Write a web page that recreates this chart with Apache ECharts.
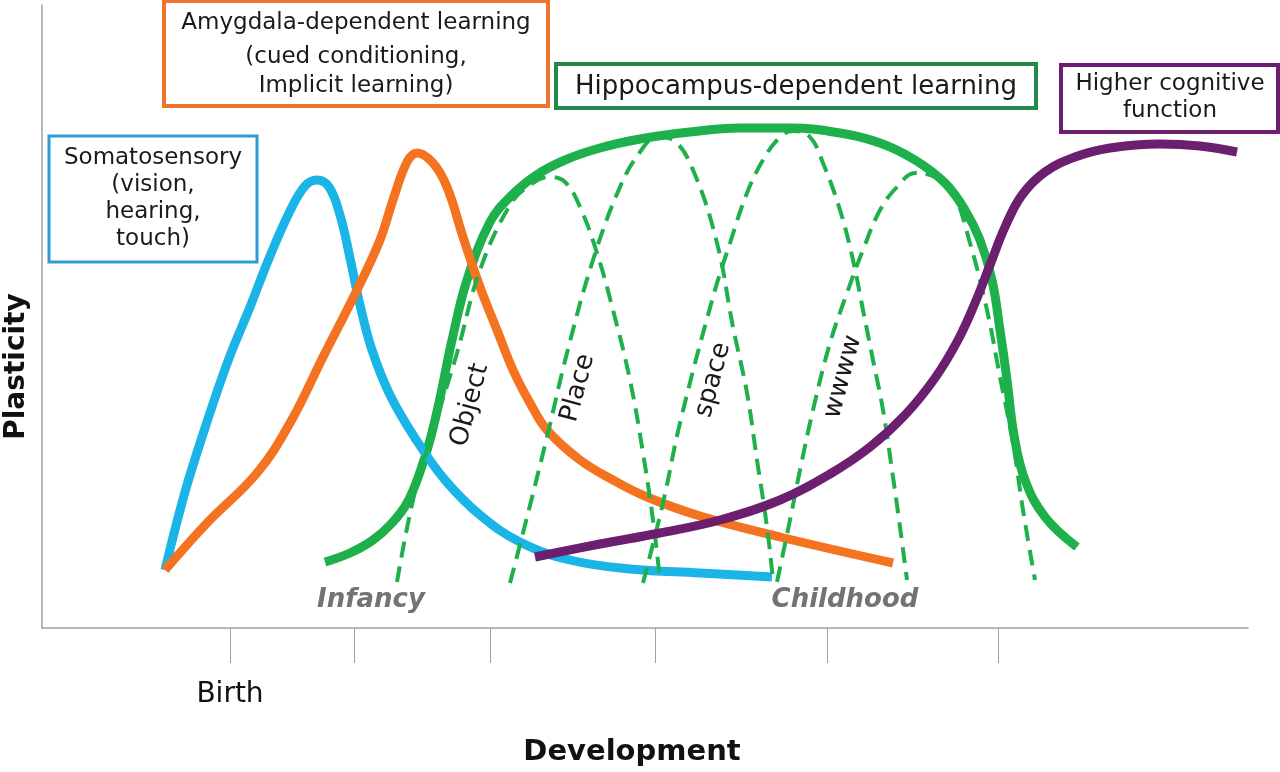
<!DOCTYPE html>
<html>
<head>
<meta charset="utf-8">
<script src="https://cdn.jsdelivr.net/npm/echarts@6/dist/echarts.min.js"></script>
<style>
html,body{margin:0;padding:0;background:#fff;}
#chart{width:1280px;height:772px;}
</style>
</head>
<body>
<div id="chart"></div>
<script>
// Development (x) and Plasticity (y) in arbitrary units
const somatosensory = [[123,58],[143,136],[163,200],[186,267],[208,321],[228,372],[248,417],[263,442],[275,448],[287,441],[298,413],[308,370],[318,323],[330,278],[348,233],[373,190],[403,148],[438,113],[478,86],[528,68],[588,59],[658,55],[730,51]];
const amygdala = [[123,58],[165,105],[215,155],[248,205],[281,271],[315,338],[338,388],[351,428],[365,466],[375,475],[391,465],[405,441],[421,391],[438,341],[455,298],[471,258],[488,225],[505,198],[538,168],[571,148],[605,131],[658,112],[738,91],[851,65]];
const hippocampus = [[283,66],[308,75],[331,88],[350,105],[365,125],[378,156],[388,188],[398,230],[410,288],[425,348],[448,406],[468,431],[493,452],[523,468],[558,480],[598,489],[648,496],[698,500],[748,500],[798,495],[838,485],[873,468],[903,445],[923,418],[938,388],[950,348],[958,298],[965,248],[972,193],[983,148],[1003,111],[1035,81]];
const higherCognitive = [[493,71],[558,84],[618,95],[678,108],[738,128],[788,154],[828,181],[863,213],[893,250],[916,288],[933,325],[948,363],[963,401],[980,433],[1003,456],[1033,471],[1068,480],[1118,484],[1158,482],[1195,476]];
const objectCurve = [[355,46],[371,128],[388,188],[415,275],[438,358],[468,423],[488,443],[508,451],[523,446],[538,421],[555,375],[571,318],[588,248],[601,175],[611,108],[618,48]];
const placeCurve = [[468,45],[481,95],[505,191],[525,275],[551,368],[578,441],[598,476],[615,491],[631,488],[651,458],[675,385],[691,301],[705,235],[715,168],[725,101],[731,48]];
const spaceCurve = [[601,45],[621,125],[638,205],[671,331],[688,385],[705,435],[721,468],[738,491],[751,497],[768,491],[781,465],[798,418],[811,368],[821,318],[831,268],[841,218],[851,151],[858,101],[865,48]];
const wwwwCurve = [[735,46],[748,108],[758,158],[771,218],[788,285],[805,335],[821,378],[838,418],[855,441],[873,455],[893,451],[911,435],[928,385],[945,318],[958,251],[971,185],[981,118],[993,48]];
const tickValues = [188,312,448,613,785,956];
const tickLabels = {188:'Birth'};

const FONT = 'DejaVu Sans';
const C = {blue:'#1ab4e6', orange:'#f47320', green:'#1eb04a', purple:'#6b1f6e'};

const chart = echarts.init(document.getElementById('chart'), null, {renderer:'canvas'});

function solid(name, data, color){
  return {name, type:'line', data, smooth:0.4, showSymbol:false, symbol:'none',
    lineStyle:{color, width:9}, silent:true};
}
function dashed(name, data){
  return {name, type:'line', data, smooth:0.4, showSymbol:false, symbol:'none',
    lineStyle:{color:C.green, width:4, type:[16,9]}, silent:true};
}

function box(x,y,w,h,color,lw){
  return {type:'rect', shape:{x,y,width:w,height:h}, style:{fill:'#fff', stroke:color, lineWidth:lw}, z:10};
}
function txt(x,y,text,size,opts){
  opts = opts || {};
  return {type:'text', x, y, rotation: opts.rot || 0, z:11,
    style:{text, fontFamily:FONT, fontSize:size, fontWeight:opts.weight||'normal', fontStyle:opts.style||'normal',
      fill:opts.color||'#1a1a1a', align:'center', verticalAlign:'middle', lineHeight:opts.lh||size*1.2}};
}
const R = 75*Math.PI/180;

chart.setOption({
  animation:false,
  backgroundColor:'#fff',
  grid:{left:42, right:32, top:5, bottom:144, containLabel:false, outerBoundsMode:'none'},
  xAxis:{type:'value', min:0, max:1206, name:'Development', nameLocation:'middle', nameGap:110,
    nameTextStyle:{fontFamily:FONT, fontSize:29, fontWeight:'bold', color:'#111', padding:[0,26,0,0]},
    axisLine:{show:true, lineStyle:{color:'#a0a0a0', width:1.5}},
    axisTick:{show:true, customValues:tickValues, length:35, inside:false, lineStyle:{color:'#a0a0a0', width:1}},
    axisLabel:{show:true, customValues:[188], formatter:v=>tickLabels[v]||'', margin:53, fontFamily:FONT, fontSize:28, color:'#111'},
    splitLine:{show:false}},
  yAxis:{type:'value', min:0, max:623, name:'Plasticity', nameLocation:'middle', nameGap:11,
    nameTextStyle:{fontFamily:FONT, fontSize:28, fontWeight:'bold', color:'#111', padding:[0,100,0,0]},
    axisLine:{show:true, lineStyle:{color:'#a0a0a0', width:1.5}},
    axisTick:{show:false}, axisLabel:{show:false}, splitLine:{show:false}},
  series:[
    solid('Hippocampus-dependent learning', hippocampus, C.green),
    solid('Somatosensory', somatosensory, C.blue),
    solid('Amygdala-dependent learning', amygdala, C.orange),
    dashed('Object', objectCurve),
    dashed('Place', placeCurve),
    dashed('space', spaceCurve),
    dashed('wwww', wwwwCurve),
    solid('Higher cognitive function', higherCognitive, C.purple)
  ],
  graphic:[
    box(49,136,208,126,'#2f9bd4',3),
    txt(153,199,'Somatosensory\n(vision,\nhearing,\ntouch)',23,{lh:27}),
    box(164,1,384,105,'#f07430',4),
    txt(356,23,'Amygdala-dependent learning',23),
    txt(356,72,'(cued conditioning,\nImplicit learning)',23,{lh:29}),
    box(556,64,480,44,'#1f8a49',4),
    txt(796,87,'Hippocampus-dependent learning',26),
    box(1061,65,217,67,'#6c1f6e',4),
    txt(1170,98,'Higher cognitive\nfunction',23,{lh:27}),
    txt(371,600,'Infancy',26,{weight:'bold', style:'italic', color:'#737373'}),
    txt(845,600,'Childhood',26,{weight:'bold', style:'italic', color:'#737373'}),
    txt(470,405,'Object',26,{rot:R}),
    txt(578,388,'Place',26,{rot:R}),
    txt(713,380,'space',26,{rot:R}),
    txt(843,377,'wwww',26,{rot:R})
  ]
});
</script>
</body>
</html>
